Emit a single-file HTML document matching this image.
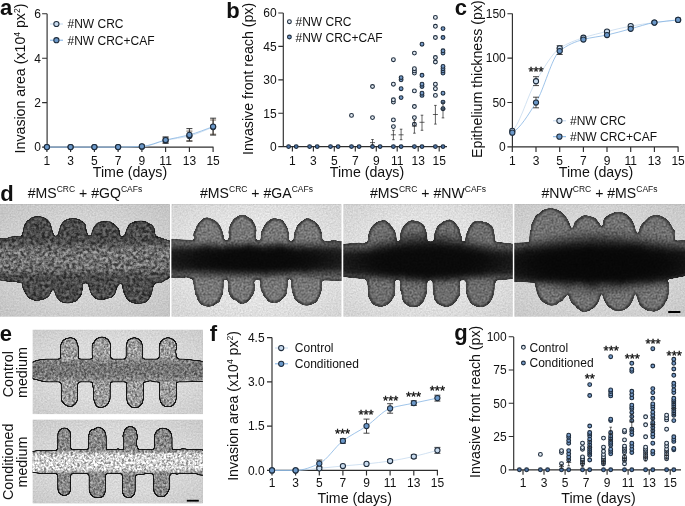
<!DOCTYPE html>
<html lang="en"><head><meta charset="utf-8"><title>Figure</title>
<style>html,body{margin:0;padding:0;background:#fff}svg{display:block}text{font-family:"Liberation Sans",sans-serif;fill:#111}</style>
</head><body>
<svg width="685" height="506" viewBox="0 0 685 506">
<rect width="685" height="506" fill="#fff"/>
<text x="0" y="14.7" font-size="22" font-weight="bold">a</text>
<path d="M47.1 13.7 V147.1 H213.5 M46.9 147.1 v5 M70.6 147.1 v5 M94.4 147.1 v5 M118.1 147.1 v5 M141.9 147.1 v5 M165.6 147.1 v5 M189.4 147.1 v5 M213.1 147.1 v5 M47.1 147.1 h-5 M47.1 102.6 h-5 M47.1 58.2 h-5 M47.1 13.7 h-5" fill="none" stroke="#2e2e2e" stroke-width="1.15"/>
<g font-size="12" text-anchor="middle">
<text x="46.9" y="164.6">1</text>
<text x="70.6" y="164.6">3</text>
<text x="94.4" y="164.6">5</text>
<text x="118.1" y="164.6">7</text>
<text x="141.9" y="164.6">9</text>
<text x="165.6" y="164.6">11</text>
<text x="189.4" y="164.6">13</text>
<text x="213.1" y="164.6">15</text>
</g>
<g font-size="12" text-anchor="end">
<text x="40.9" y="151.4">0</text>
<text x="40.9" y="106.9">2</text>
<text x="40.9" y="62.5">4</text>
<text x="40.9" y="18">6</text>
</g>
<text transform="translate(24.7 78.5) rotate(-90)" font-size="14.2" text-anchor="middle">Invasion area (x10<tspan font-size="8.5" dy="-5">4</tspan><tspan dy="5"> px</tspan><tspan font-size="8.5" dy="-5">2</tspan><tspan dy="5">)</tspan></text>
<text x="130" y="177.3" font-size="14.2" text-anchor="middle">Time (days)</text>
<path d="M50 24h13" stroke="#c3d8ee" stroke-width="1"/>
<path d="M50 40.2h13" stroke="#7fb0e2" stroke-width="1"/>
<circle cx="56.4" cy="24" r="2.6" fill="#c9dbee" stroke="#1e2c3c" stroke-width="1.05"/>
<circle cx="56.4" cy="40.2" r="2.6" fill="#6b98c9" stroke="#1e2c3c" stroke-width="1.05"/>
<text x="67.5" y="28.3" font-size="12">#NW CRC</text>
<text x="67.5" y="44.5" font-size="12">#NW CRC+CAF</text>
<path d="M46.9 147.1 C54.8 147.1 62.7 147.1 70.6 147.1 C78.6 147.1 86.5 147.1 94.4 147.1 C102.3 147.1 110.2 147.1 118.1 147.1 C126 147.1 134 146.9 141.9 146.7 C149.8 146.4 157.7 142.2 165.6 140.4 C173.5 138.7 181.4 138 189.4 136 C197.3 134 205.2 130.1 213.1 127.1" fill="none" stroke="#c3d8ee" stroke-width="0.75"/>
<path d="M46.9 147.1 C54.8 147.1 62.7 147.1 70.6 147.1 C78.6 147.1 86.5 147.1 94.4 147.1 C102.3 147.1 110.2 147.1 118.1 147.1 C126 147.1 134 146.8 141.9 146.4 C149.8 146 157.7 141.9 165.6 140 C173.5 138.1 181.4 137 189.4 134.9 C197.3 132.8 205.2 129.4 213.1 126.6" fill="none" stroke="#7fb0e2" stroke-width="0.75"/>
<path d="M165.6 137.8 V143.1 M162.6 137.8 h6 M162.6 143.1 h6" stroke="#6b5a4a" stroke-width="0.9" fill="none"/>
<path d="M189.4 131.1 V140.9 M186.4 131.1 h6 M186.4 140.9 h6" stroke="#6b5a4a" stroke-width="0.9" fill="none"/>
<path d="M213.1 120 V134.2 M210.1 120 h6 M210.1 134.2 h6" stroke="#6b5a4a" stroke-width="0.9" fill="none"/>
<path d="M165.6 136.9 V143.1 M162.6 136.9 h6 M162.6 143.1 h6" stroke="#222" stroke-width="0.9" fill="none"/>
<path d="M189.4 128.6 V141.1 M186.4 128.6 h6 M186.4 141.1 h6" stroke="#222" stroke-width="0.9" fill="none"/>
<path d="M213.1 118.2 V135.1 M210.1 118.2 h6 M210.1 135.1 h6" stroke="#222" stroke-width="0.9" fill="none"/>
<circle cx="46.9" cy="147.1" r="2.6" fill="#c9dbee" stroke="#1e2c3c" stroke-width="1.05"/>
<circle cx="70.6" cy="147.1" r="2.6" fill="#c9dbee" stroke="#1e2c3c" stroke-width="1.05"/>
<circle cx="94.4" cy="147.1" r="2.6" fill="#c9dbee" stroke="#1e2c3c" stroke-width="1.05"/>
<circle cx="118.1" cy="147.1" r="2.6" fill="#c9dbee" stroke="#1e2c3c" stroke-width="1.05"/>
<circle cx="141.9" cy="146.7" r="2.6" fill="#c9dbee" stroke="#1e2c3c" stroke-width="1.05"/>
<circle cx="165.6" cy="140.4" r="2.6" fill="#c9dbee" stroke="#1e2c3c" stroke-width="1.05"/>
<circle cx="189.4" cy="136" r="2.6" fill="#c9dbee" stroke="#1e2c3c" stroke-width="1.05"/>
<circle cx="213.1" cy="127.1" r="2.6" fill="#c9dbee" stroke="#1e2c3c" stroke-width="1.05"/>
<circle cx="46.9" cy="147.1" r="2.6" fill="#6b98c9" stroke="#1e2c3c" stroke-width="1.05"/>
<circle cx="70.6" cy="147.1" r="2.6" fill="#6b98c9" stroke="#1e2c3c" stroke-width="1.05"/>
<circle cx="94.4" cy="147.1" r="2.6" fill="#6b98c9" stroke="#1e2c3c" stroke-width="1.05"/>
<circle cx="118.1" cy="147.1" r="2.6" fill="#6b98c9" stroke="#1e2c3c" stroke-width="1.05"/>
<circle cx="141.9" cy="146.4" r="2.6" fill="#6b98c9" stroke="#1e2c3c" stroke-width="1.05"/>
<circle cx="165.6" cy="140" r="2.6" fill="#6b98c9" stroke="#1e2c3c" stroke-width="1.05"/>
<circle cx="189.4" cy="134.9" r="2.6" fill="#6b98c9" stroke="#1e2c3c" stroke-width="1.05"/>
<circle cx="213.1" cy="126.6" r="2.6" fill="#6b98c9" stroke="#1e2c3c" stroke-width="1.05"/>
<text x="226.2" y="17.9" font-size="22" font-weight="bold">b</text>
<path d="M283.3 13 V146.6 H447 M292.4 146.6 v5 M313.4 146.6 v5 M334.3 146.6 v5 M355.3 146.6 v5 M376.3 146.6 v5 M397.2 146.6 v5 M418.2 146.6 v5 M439.2 146.6 v5 M283.3 146.6 h-5 M283.3 113.2 h-5 M283.3 79.8 h-5 M283.3 46.4 h-5 M283.3 13 h-5" fill="none" stroke="#2e2e2e" stroke-width="1.15"/>
<g font-size="12" text-anchor="middle">
<text x="292.4" y="164.6">1</text>
<text x="313.4" y="164.6">3</text>
<text x="334.3" y="164.6">5</text>
<text x="355.3" y="164.6">7</text>
<text x="376.3" y="164.6">9</text>
<text x="397.2" y="164.6">11</text>
<text x="418.2" y="164.6">13</text>
<text x="439.2" y="164.6">15</text>
</g>
<g font-size="12" text-anchor="end">
<text x="276.7" y="150.9">0</text>
<text x="276.7" y="117.5">15</text>
<text x="276.7" y="84.1">30</text>
<text x="276.7" y="50.7">45</text>
<text x="276.7" y="17.3">60</text>
</g>
<text transform="translate(253.4 78.9) rotate(-90)" font-size="14.2" text-anchor="middle">Invasive front reach (px)</text>
<text x="367" y="177.3" font-size="14.2" text-anchor="middle">Time (days)</text>
<circle cx="289.4" cy="21.7" r="1.9" fill="#e3ebf4" stroke="#1e2c3c" stroke-width="1.1"/>
<circle cx="289.4" cy="37" r="1.9" fill="#7599c6" stroke="#1e2c3c" stroke-width="1.1"/>
<text x="295.5" y="26" font-size="12">#NW CRC</text>
<text x="295.5" y="41.5" font-size="12">#NW CRC+CAF</text>
<circle cx="288.6" cy="146.6" r="1.9" fill="#4d73a5" stroke="#1e2c3c" stroke-width="1.1"/>
<circle cx="296.2" cy="146.6" r="1.9" fill="#4d73a5" stroke="#1e2c3c" stroke-width="1.1"/>
<circle cx="309.6" cy="146.6" r="1.9" fill="#4d73a5" stroke="#1e2c3c" stroke-width="1.1"/>
<circle cx="317.2" cy="146.6" r="1.9" fill="#4d73a5" stroke="#1e2c3c" stroke-width="1.1"/>
<circle cx="330.5" cy="146.6" r="1.9" fill="#4d73a5" stroke="#1e2c3c" stroke-width="1.1"/>
<circle cx="338.1" cy="146.6" r="1.9" fill="#4d73a5" stroke="#1e2c3c" stroke-width="1.1"/>
<circle cx="351.5" cy="146.6" r="1.9" fill="#4d73a5" stroke="#1e2c3c" stroke-width="1.1"/>
<circle cx="351.5" cy="115.4" r="1.9" fill="#e3ebf4" stroke="#1e2c3c" stroke-width="1.1"/>
<circle cx="359.1" cy="146.6" r="1.9" fill="#4d73a5" stroke="#1e2c3c" stroke-width="1.1"/>
<circle cx="372.5" cy="146.6" r="1.9" fill="#4d73a5" stroke="#1e2c3c" stroke-width="1.1"/>
<circle cx="372.5" cy="117.6" r="1.9" fill="#e3ebf4" stroke="#1e2c3c" stroke-width="1.1"/>
<circle cx="372.5" cy="86.5" r="1.9" fill="#e3ebf4" stroke="#1e2c3c" stroke-width="1.1"/>
<circle cx="380.1" cy="146.6" r="1.9" fill="#4d73a5" stroke="#1e2c3c" stroke-width="1.1"/>
<circle cx="393.4" cy="146.6" r="1.9" fill="#4d73a5" stroke="#1e2c3c" stroke-width="1.1"/>
<circle cx="393.4" cy="126.6" r="1.9" fill="#e3ebf4" stroke="#1e2c3c" stroke-width="1.1"/>
<circle cx="393.4" cy="119.9" r="1.9" fill="#e3ebf4" stroke="#1e2c3c" stroke-width="1.1"/>
<circle cx="393.4" cy="102.1" r="1.9" fill="#e3ebf4" stroke="#1e2c3c" stroke-width="1.1"/>
<circle cx="393.4" cy="99.8" r="1.9" fill="#e3ebf4" stroke="#1e2c3c" stroke-width="1.1"/>
<circle cx="393.4" cy="84.2" r="1.9" fill="#e3ebf4" stroke="#1e2c3c" stroke-width="1.1"/>
<circle cx="393.4" cy="59.7" r="1.9" fill="#e3ebf4" stroke="#1e2c3c" stroke-width="1.1"/>
<circle cx="401.1" cy="146.6" r="1.9" fill="#4d73a5" stroke="#1e2c3c" stroke-width="1.1"/>
<circle cx="401.1" cy="97.6" r="1.9" fill="#7599c6" stroke="#1e2c3c" stroke-width="1.1"/>
<circle cx="401.1" cy="88.7" r="1.9" fill="#7599c6" stroke="#1e2c3c" stroke-width="1.1"/>
<circle cx="401.1" cy="79.8" r="1.9" fill="#7599c6" stroke="#1e2c3c" stroke-width="1.1"/>
<circle cx="401.1" cy="77.6" r="1.9" fill="#7599c6" stroke="#1e2c3c" stroke-width="1.1"/>
<circle cx="414.4" cy="146.6" r="1.9" fill="#4d73a5" stroke="#1e2c3c" stroke-width="1.1"/>
<circle cx="414.4" cy="124.3" r="1.9" fill="#e3ebf4" stroke="#1e2c3c" stroke-width="1.1"/>
<circle cx="414.4" cy="117.6" r="1.9" fill="#e3ebf4" stroke="#1e2c3c" stroke-width="1.1"/>
<circle cx="414.4" cy="106.5" r="1.9" fill="#e3ebf4" stroke="#1e2c3c" stroke-width="1.1"/>
<circle cx="414.4" cy="90.9" r="1.9" fill="#e3ebf4" stroke="#1e2c3c" stroke-width="1.1"/>
<circle cx="414.4" cy="73.1" r="1.9" fill="#e3ebf4" stroke="#1e2c3c" stroke-width="1.1"/>
<circle cx="414.4" cy="70.9" r="1.9" fill="#e3ebf4" stroke="#1e2c3c" stroke-width="1.1"/>
<circle cx="414.4" cy="68.7" r="1.9" fill="#e3ebf4" stroke="#1e2c3c" stroke-width="1.1"/>
<circle cx="414.4" cy="53.1" r="1.9" fill="#e3ebf4" stroke="#1e2c3c" stroke-width="1.1"/>
<circle cx="422" cy="146.6" r="1.9" fill="#4d73a5" stroke="#1e2c3c" stroke-width="1.1"/>
<circle cx="422" cy="95.4" r="1.9" fill="#7599c6" stroke="#1e2c3c" stroke-width="1.1"/>
<circle cx="422" cy="93.2" r="1.9" fill="#7599c6" stroke="#1e2c3c" stroke-width="1.1"/>
<circle cx="422" cy="86.5" r="1.9" fill="#7599c6" stroke="#1e2c3c" stroke-width="1.1"/>
<circle cx="422" cy="84.2" r="1.9" fill="#7599c6" stroke="#1e2c3c" stroke-width="1.1"/>
<circle cx="422" cy="75.3" r="1.9" fill="#7599c6" stroke="#1e2c3c" stroke-width="1.1"/>
<circle cx="422" cy="44.2" r="1.9" fill="#7599c6" stroke="#1e2c3c" stroke-width="1.1"/>
<circle cx="435.4" cy="146.6" r="1.9" fill="#4d73a5" stroke="#1e2c3c" stroke-width="1.1"/>
<circle cx="435.4" cy="95.4" r="1.9" fill="#e3ebf4" stroke="#1e2c3c" stroke-width="1.1"/>
<circle cx="435.4" cy="88.7" r="1.9" fill="#e3ebf4" stroke="#1e2c3c" stroke-width="1.1"/>
<circle cx="435.4" cy="84.2" r="1.9" fill="#e3ebf4" stroke="#1e2c3c" stroke-width="1.1"/>
<circle cx="435.4" cy="62" r="1.9" fill="#e3ebf4" stroke="#1e2c3c" stroke-width="1.1"/>
<circle cx="435.4" cy="57.5" r="1.9" fill="#e3ebf4" stroke="#1e2c3c" stroke-width="1.1"/>
<circle cx="435.4" cy="37.5" r="1.9" fill="#e3ebf4" stroke="#1e2c3c" stroke-width="1.1"/>
<circle cx="435.4" cy="26.3" r="1.9" fill="#e3ebf4" stroke="#1e2c3c" stroke-width="1.1"/>
<circle cx="435.4" cy="17.4" r="1.9" fill="#e3ebf4" stroke="#1e2c3c" stroke-width="1.1"/>
<circle cx="443" cy="146.6" r="1.9" fill="#4d73a5" stroke="#1e2c3c" stroke-width="1.1"/>
<circle cx="443" cy="108.7" r="1.9" fill="#7599c6" stroke="#1e2c3c" stroke-width="1.1"/>
<circle cx="443" cy="102.1" r="1.9" fill="#7599c6" stroke="#1e2c3c" stroke-width="1.1"/>
<circle cx="443" cy="93.2" r="1.9" fill="#7599c6" stroke="#1e2c3c" stroke-width="1.1"/>
<circle cx="443" cy="73.1" r="1.9" fill="#7599c6" stroke="#1e2c3c" stroke-width="1.1"/>
<circle cx="443" cy="70.9" r="1.9" fill="#7599c6" stroke="#1e2c3c" stroke-width="1.1"/>
<circle cx="443" cy="68.7" r="1.9" fill="#7599c6" stroke="#1e2c3c" stroke-width="1.1"/>
<circle cx="443" cy="66.4" r="1.9" fill="#7599c6" stroke="#1e2c3c" stroke-width="1.1"/>
<circle cx="443" cy="53.1" r="1.9" fill="#7599c6" stroke="#1e2c3c" stroke-width="1.1"/>
<circle cx="443" cy="50.8" r="1.9" fill="#7599c6" stroke="#1e2c3c" stroke-width="1.1"/>
<circle cx="443" cy="37.5" r="1.9" fill="#7599c6" stroke="#1e2c3c" stroke-width="1.1"/>
<circle cx="443" cy="28.6" r="1.9" fill="#7599c6" stroke="#1e2c3c" stroke-width="1.1"/>
<path d="M372.5 139.5 V144.8 M371.2 139.5 h2.6 M371.2 144.8 h2.6" stroke="#222" stroke-width="0.7" fill="none"/>
<path d="M370 142.6h5" stroke="#222" stroke-width="0.7"/>
<path d="M393.4 130.3 V139.7 M392.1 130.3 h2.6 M392.1 139.7 h2.6" stroke="#222" stroke-width="0.7" fill="none"/>
<path d="M390.9 134.8h5" stroke="#222" stroke-width="0.7"/>
<path d="M414.4 120.3 V133.2 M413.1 120.3 h2.6 M413.1 133.2 h2.6" stroke="#222" stroke-width="0.7" fill="none"/>
<path d="M411.9 126.1h5" stroke="#222" stroke-width="0.7"/>
<path d="M435.4 105.4 V124.1 M434.1 105.4 h2.6 M434.1 124.1 h2.6" stroke="#222" stroke-width="0.7" fill="none"/>
<path d="M432.9 114.5h5" stroke="#222" stroke-width="0.7"/>
<path d="M401.1 129.2 V139.7 M399.8 129.2 h2.6 M399.8 139.7 h2.6" stroke="#222" stroke-width="0.7" fill="none"/>
<path d="M398.6 134.8h5" stroke="#222" stroke-width="0.7"/>
<path d="M422 115.2 V130.3 M420.7 115.2 h2.6 M420.7 130.3 h2.6" stroke="#222" stroke-width="0.7" fill="none"/>
<path d="M419.5 122.3h5" stroke="#222" stroke-width="0.7"/>
<path d="M443 102.1 V117.9 M441.7 102.1 h2.6 M441.7 117.9 h2.6" stroke="#222" stroke-width="0.7" fill="none"/>
<path d="M440.5 109h5" stroke="#222" stroke-width="0.7"/>
<text x="454.7" y="14.7" font-size="22" font-weight="bold">c</text>
<path d="M512.4 13.6 V146.9 H678.5 M512.3 146.9 v5 M536 146.9 v5 M559.7 146.9 v5 M583.4 146.9 v5 M607 146.9 v5 M630.7 146.9 v5 M654.4 146.9 v5 M678.1 146.9 v5 M512.4 146.9 h-5 M512.4 102.5 h-5 M512.4 58.1 h-5 M512.4 13.7 h-5" fill="none" stroke="#2e2e2e" stroke-width="1.15"/>
<g font-size="12" text-anchor="middle">
<text x="512.3" y="164.6">1</text>
<text x="536" y="164.6">3</text>
<text x="559.7" y="164.6">5</text>
<text x="583.4" y="164.6">7</text>
<text x="607" y="164.6">9</text>
<text x="630.7" y="164.6">11</text>
<text x="654.4" y="164.6">13</text>
<text x="678.1" y="164.6">15</text>
</g>
<g font-size="12" text-anchor="end">
<text x="505.8" y="151.2">0</text>
<text x="505.8" y="106.8">50</text>
<text x="505.8" y="62.4">100</text>
<text x="505.8" y="18">150</text>
</g>
<text transform="translate(481.9 79.1) rotate(-90)" font-size="14.2" text-anchor="middle">Epithelium thickness (px)</text>
<text x="596" y="177.3" font-size="14.2" text-anchor="middle">Time (days)</text>
<path d="M512.3 130.9 C520.2 123.5 528.1 94.4 536 81.2 C543.9 68 551.8 53.7 559.7 48.3 C567.6 43 575.5 40.3 583.4 37.7 C591.3 35.1 599.1 33.4 607 31.5 C614.9 29.5 622.8 27.6 630.7 26.1 C638.6 24.7 646.5 23.6 654.4 22.6 C662.3 21.6 670.2 20.8 678.1 19.9" fill="none" stroke="#c3d8ee" stroke-width="0.75"/>
<path d="M512.3 132.7 C520.2 128.2 528.1 115.2 536 102.5 C543.9 89.8 551.8 57.3 559.7 51 C567.6 44.7 575.5 41.6 583.4 39.5 C591.3 37.3 599.1 36.7 607 35 C614.9 33.3 622.8 30.9 630.7 28.8 C638.6 26.7 646.5 23.8 654.4 22.6 C662.3 21.3 670.2 20.8 678.1 19.9" fill="none" stroke="#7fb0e2" stroke-width="0.75"/>
<path d="M536 76.7 V85.6 M533 76.7 h6 M533 85.6 h6" stroke="#333" stroke-width="0.9" fill="none"/>
<path d="M536 97.2 V107.8 M533 97.2 h6 M533 107.8 h6" stroke="#333" stroke-width="0.9" fill="none"/>
<path d="M559.7 45.7 V51 M556.7 45.7 h6 M556.7 51 h6" stroke="#333" stroke-width="0.9" fill="none"/>
<path d="M559.7 48.3 V54.5 M556.7 48.3 h6 M556.7 54.5 h6" stroke="#333" stroke-width="0.9" fill="none"/>
<circle cx="512.3" cy="130.9" r="2.6" fill="#c9dbee" stroke="#1e2c3c" stroke-width="1.05"/>
<circle cx="536" cy="81.2" r="2.6" fill="#c9dbee" stroke="#1e2c3c" stroke-width="1.05"/>
<circle cx="559.7" cy="48.3" r="2.6" fill="#c9dbee" stroke="#1e2c3c" stroke-width="1.05"/>
<circle cx="583.4" cy="37.7" r="2.6" fill="#c9dbee" stroke="#1e2c3c" stroke-width="1.05"/>
<circle cx="607" cy="31.5" r="2.6" fill="#c9dbee" stroke="#1e2c3c" stroke-width="1.05"/>
<circle cx="630.7" cy="26.1" r="2.6" fill="#c9dbee" stroke="#1e2c3c" stroke-width="1.05"/>
<circle cx="654.4" cy="22.6" r="2.6" fill="#c9dbee" stroke="#1e2c3c" stroke-width="1.05"/>
<circle cx="678.1" cy="19.9" r="2.6" fill="#c9dbee" stroke="#1e2c3c" stroke-width="1.05"/>
<circle cx="512.3" cy="132.7" r="2.6" fill="#6b98c9" stroke="#1e2c3c" stroke-width="1.05"/>
<circle cx="536" cy="102.5" r="2.6" fill="#6b98c9" stroke="#1e2c3c" stroke-width="1.05"/>
<circle cx="559.7" cy="51" r="2.6" fill="#6b98c9" stroke="#1e2c3c" stroke-width="1.05"/>
<circle cx="583.4" cy="39.5" r="2.6" fill="#6b98c9" stroke="#1e2c3c" stroke-width="1.05"/>
<circle cx="607" cy="35" r="2.6" fill="#6b98c9" stroke="#1e2c3c" stroke-width="1.05"/>
<circle cx="630.7" cy="28.8" r="2.6" fill="#6b98c9" stroke="#1e2c3c" stroke-width="1.05"/>
<circle cx="654.4" cy="22.6" r="2.6" fill="#6b98c9" stroke="#1e2c3c" stroke-width="1.05"/>
<circle cx="678.1" cy="19.9" r="2.6" fill="#6b98c9" stroke="#1e2c3c" stroke-width="1.05"/>
<text x="536" y="76.3" font-size="13" text-anchor="middle" stroke="#111" stroke-width="0.35">***</text>
<path d="M553 120.8h13" stroke="#c3d8ee" stroke-width="1"/>
<path d="M553 136.7h13" stroke="#7fb0e2" stroke-width="1"/>
<circle cx="559.4" cy="120.8" r="2.6" fill="#c9dbee" stroke="#1e2c3c" stroke-width="1.05"/>
<circle cx="559.4" cy="136.7" r="2.6" fill="#6b98c9" stroke="#1e2c3c" stroke-width="1.05"/>
<text x="570" y="125" font-size="12">#NW CRC</text>
<text x="570" y="141" font-size="12">#NW CRC+CAF</text>
<text x="0.3" y="200.5" font-size="22" font-weight="bold">d</text>
<text x="85" y="198.3" font-size="14.1" text-anchor="middle">#MS<tspan font-size="8.5" dy="-6">CRC</tspan><tspan dy="6"> + #GQ</tspan><tspan font-size="8.5" dy="-6">CAFs</tspan></text>
<text x="256.5" y="198.3" font-size="14.1" text-anchor="middle">#MS<tspan font-size="8.5" dy="-6">CRC</tspan><tspan dy="6"> + #GA</tspan><tspan font-size="8.5" dy="-6">CAFs</tspan></text>
<text x="428" y="198.3" font-size="14.1" text-anchor="middle">#MS<tspan font-size="8.5" dy="-6">CRC</tspan><tspan dy="6"> + #NW</tspan><tspan font-size="8.5" dy="-6">CAFs</tspan></text>
<text x="599.5" y="198.3" font-size="14.1" text-anchor="middle">#NW<tspan font-size="8.5" dy="-6">CRC</tspan><tspan dy="6"> + #MS</tspan><tspan font-size="8.5" dy="-6">CAFs</tspan></text>
<defs>
<filter id="txA" x="-5%" y="-5%" width="110%" height="110%" color-interpolation-filters="sRGB"><feTurbulence type="fractalNoise" baseFrequency="0.07" numOctaves="2" seed="15" result="w"/><feDisplacementMap in="SourceGraphic" in2="w" scale="3" xChannelSelector="R" yChannelSelector="G" result="sg0"/><feGaussianBlur in="sg0" stdDeviation="1.2" result="sg1"/><feColorMatrix in="sg1" type="matrix" values="1 0 0 0 0  0 1 0 0 0  0 0 1 0 0  0 0 0 6 -2.5" result="sg"/><feColorMatrix in="sg" type="matrix" values="0 0 0 0 0  0 0 0 0 0  0 0 0 0 0  0 0 0 1 0" result="sa"/><feMorphology in="sa" operator="erode" radius="0.8" result="er"/><feComposite in="sa" in2="er" operator="out" result="ra"/><feFlood flood-color="#2a2a2a" result="rc"/><feComposite in="rc" in2="ra" operator="in" result="rim0"/><feGaussianBlur in="rim0" stdDeviation="0.6" result="rim"/><feMerge result="withrim"><feMergeNode in="sg"/><feMergeNode in="rim"/><feMergeNode in="rim"/></feMerge><feComposite in="withrim" in2="sa" operator="in" result="wr"/><feTurbulence type="fractalNoise" baseFrequency="0.33" numOctaves="3" seed="4" result="n0"/><feColorMatrix in="n0" type="matrix" values="1.2 1.2 1.2 0 -1.3  1.2 1.2 1.2 0 -1.3  1.2 1.2 1.2 0 -1.3  0 0 0 0 1" result="n"/><feComposite in="wr" in2="n" operator="arithmetic" k1="0.95" k2="0.52" k3="0" k4="0" result="t"/><feComposite in="t" in2="wr" operator="in" result="t2"/><feGaussianBlur in="t2" stdDeviation="0.6"/></filter>
<filter id="txB" x="-5%" y="-5%" width="110%" height="110%" color-interpolation-filters="sRGB"><feTurbulence type="fractalNoise" baseFrequency="0.07" numOctaves="2" seed="20" result="w"/><feDisplacementMap in="SourceGraphic" in2="w" scale="3" xChannelSelector="R" yChannelSelector="G" result="sg0"/><feGaussianBlur in="sg0" stdDeviation="1.2" result="sg1"/><feColorMatrix in="sg1" type="matrix" values="1 0 0 0 0  0 1 0 0 0  0 0 1 0 0  0 0 0 6 -2.5" result="sg"/><feColorMatrix in="sg" type="matrix" values="0 0 0 0 0  0 0 0 0 0  0 0 0 0 0  0 0 0 1 0" result="sa"/><feMorphology in="sa" operator="erode" radius="1.4" result="er"/><feComposite in="sa" in2="er" operator="out" result="ra"/><feFlood flood-color="#262626" result="rc"/><feComposite in="rc" in2="ra" operator="in" result="rim0"/><feGaussianBlur in="rim0" stdDeviation="0.9" result="rim"/><feMerge result="withrim"><feMergeNode in="sg"/><feMergeNode in="rim"/><feMergeNode in="rim"/></feMerge><feComposite in="withrim" in2="sa" operator="in" result="wr"/><feTurbulence type="fractalNoise" baseFrequency="0.5" numOctaves="3" seed="9" result="n0"/><feColorMatrix in="n0" type="matrix" values="1.2 1.2 1.2 0 -1.3  1.2 1.2 1.2 0 -1.3  1.2 1.2 1.2 0 -1.3  0 0 0 0 1" result="n"/><feComposite in="wr" in2="n" operator="arithmetic" k1="0.45" k2="0.78" k3="0" k4="0" result="t"/><feComposite in="t" in2="wr" operator="in" result="t2"/><feGaussianBlur in="t2" stdDeviation="0.6"/></filter>
<filter id="txE" x="-5%" y="-5%" width="110%" height="110%" color-interpolation-filters="sRGB"><feTurbulence type="fractalNoise" baseFrequency="0.07" numOctaves="2" seed="16" result="w"/><feDisplacementMap in="SourceGraphic" in2="w" scale="2.5" xChannelSelector="R" yChannelSelector="G" result="sg0"/><feGaussianBlur in="sg0" stdDeviation="1.3" result="sg1"/><feColorMatrix in="sg1" type="matrix" values="1 0 0 0 0  0 1 0 0 0  0 0 1 0 0  0 0 0 6 -2.5" result="sg"/><feColorMatrix in="sg" type="matrix" values="0 0 0 0 0  0 0 0 0 0  0 0 0 0 0  0 0 0 1 0" result="sa"/><feMorphology in="sa" operator="erode" radius="1.2" result="er"/><feComposite in="sa" in2="er" operator="out" result="ra"/><feFlood flood-color="#161616" result="rc"/><feComposite in="rc" in2="ra" operator="in" result="rim0"/><feGaussianBlur in="rim0" stdDeviation="0.7" result="rim"/><feMerge result="withrim"><feMergeNode in="sg"/><feMergeNode in="rim"/><feMergeNode in="rim"/></feMerge><feComposite in="withrim" in2="sa" operator="in" result="wr"/><feTurbulence type="fractalNoise" baseFrequency="0.45" numOctaves="3" seed="5" result="n0"/><feColorMatrix in="n0" type="matrix" values="1.2 1.2 1.2 0 -1.3  1.2 1.2 1.2 0 -1.3  1.2 1.2 1.2 0 -1.3  0 0 0 0 1" result="n"/><feComposite in="wr" in2="n" operator="arithmetic" k1="0.75" k2="0.62" k3="0" k4="0" result="t"/><feComposite in="t" in2="wr" operator="in" result="t2"/><feGaussianBlur in="t2" stdDeviation="0.5"/></filter>
<filter id="bgn" x="0" y="0" width="100%" height="100%" color-interpolation-filters="sRGB"><feTurbulence type="fractalNoise" baseFrequency="0.6" numOctaves="2" seed="2" result="n0"/><feColorMatrix in="n0" type="matrix" values="1 1 1 0 -1  1 1 1 0 -1  1 1 1 0 -1  0 0 0 0 1" result="n"/><feComposite in="SourceGraphic" in2="n" operator="arithmetic" k1="0.12" k2="0.94" k3="0" k4="0"/></filter>
<radialGradient id="vig" cx="50%" cy="50%" r="75%"><stop offset="0.5" stop-color="#000" stop-opacity="0"/><stop offset="1" stop-color="#000" stop-opacity="0.08"/></radialGradient>
</defs>
<clipPath id="cd1"><rect x="0" y="204.1" width="169.9" height="112.6"/></clipPath>
<clipPath id="cd1s"><path d="M-3 238 L15 236 L155 235.5 L173 241.5 L173 278 L155 284 L15 283 L-3 280Z M20.7 238C24.2 230.3 22.5 216 37.7 216C52.9 216 51.2 230.3 54.7 238Z M56.4 238C59.9 231 58.2 218 72.9 218C87.6 218 85.9 231 89.4 238Z M89.5 238C93 232.1 91.3 221 105.5 221C119.7 221 118 232.1 121.5 238Z M123.2 238C126.7 231.9 124.9 220.5 140.7 220.5C156.4 220.5 154.7 231.9 158.2 238Z"/><path d="M20.2 281C23.7 287.8 22 300.5 37.7 300.5C53.5 300.5 51.7 287.8 55.2 281Z M51.3 281C54.8 288.9 53.1 303.5 67.8 303.5C82.5 303.5 80.8 288.9 84.3 281Z M86.5 281C90 287.8 88.3 300.5 103 300.5C117.7 300.5 116 287.8 119.5 281Z M120.5 281C124 289.1 122.2 304 138 304C153.8 304 152 289.1 155.5 281Z"/></clipPath>
<g clip-path="url(#cd1)">
<rect x="0" y="204.1" width="169.9" height="112.6" fill="#d2d2d2" filter="url(#bgn)"/>
<rect x="0" y="204.1" width="169.9" height="112.6" fill="url(#vig)"/>
<g filter="url(#txA)"><g clip-path="url(#cd1s)"><rect x="-5" y="199.1" width="179.9" height="122.6" fill="#4a4a4a"/><linearGradient id="vg1" x1="0" y1="0" x2="0" y2="1"><stop offset="0.000" stop-color="#848484" stop-opacity="0.00"/><stop offset="0.070" stop-color="#848484" stop-opacity="0.04"/><stop offset="0.122" stop-color="#848484" stop-opacity="0.15"/><stop offset="0.175" stop-color="#848484" stop-opacity="0.33"/><stop offset="0.227" stop-color="#848484" stop-opacity="0.51"/><stop offset="0.280" stop-color="#848484" stop-opacity="0.62"/><stop offset="0.350" stop-color="#848484" stop-opacity="0.66"/><stop offset="0.650" stop-color="#848484" stop-opacity="0.66"/><stop offset="0.720" stop-color="#848484" stop-opacity="0.62"/><stop offset="0.772" stop-color="#848484" stop-opacity="0.51"/><stop offset="0.825" stop-color="#848484" stop-opacity="0.33"/><stop offset="0.878" stop-color="#848484" stop-opacity="0.15"/><stop offset="0.930" stop-color="#848484" stop-opacity="0.04"/><stop offset="1.000" stop-color="#848484" stop-opacity="0.00"/></linearGradient><rect x="-8" y="239" width="186" height="40" fill="url(#vg1)"/></g></g>
</g>
<clipPath id="cd2"><rect x="171.4" y="204.1" width="170.2" height="112.6"/></clipPath>
<clipPath id="cd2s"><path d="M168 239 L200 240 L320 240.5 L345 241.5 L345 281 L320 280.5 L200 279.5 L168 277.5Z M194.2 258.2V236.2A14.5 18.9 0 0 1 223.2 236.2V258.2Z M228.3 258.2V233.4A14.3 18.6 0 0 1 256.9 233.4V258.2Z M261.5 258.2V236A13.8 17.9 0 0 1 289.1 236V258.2Z M293.5 258.2V237.9A14.5 18.9 0 0 1 322.5 237.9V258.2Z"/><path d="M193.7 258.2V287.5A15 19.5 0 0 0 223.7 287.5V258.2Z M227.6 258.2V286.1A13.8 17.9 0 0 0 255.2 286.1V258.2Z M260.2 258.2V285.4A13.8 17.9 0 0 0 287.8 285.4V258.2Z M291.2 258.2V285.7A15.5 20.2 0 0 0 322.2 285.7V258.2Z"/></clipPath>
<g clip-path="url(#cd2)">
<rect x="171.4" y="204.1" width="170.2" height="112.6" fill="#e3e3e3" filter="url(#bgn)"/>
<rect x="171.4" y="204.1" width="170.2" height="112.6" fill="url(#vig)"/>
<g filter="url(#txB)"><g clip-path="url(#cd2s)"><rect x="166.4" y="199.1" width="180.2" height="122.6" fill="#767676"/><linearGradient id="vg2" x1="0" y1="0" x2="0" y2="1"><stop offset="0.000" stop-color="#1a1a1a" stop-opacity="0.00"/><stop offset="0.052" stop-color="#1a1a1a" stop-opacity="0.03"/><stop offset="0.091" stop-color="#1a1a1a" stop-opacity="0.12"/><stop offset="0.130" stop-color="#1a1a1a" stop-opacity="0.28"/><stop offset="0.170" stop-color="#1a1a1a" stop-opacity="0.43"/><stop offset="0.209" stop-color="#1a1a1a" stop-opacity="0.52"/><stop offset="0.261" stop-color="#1a1a1a" stop-opacity="0.55"/><stop offset="0.739" stop-color="#1a1a1a" stop-opacity="0.55"/><stop offset="0.791" stop-color="#1a1a1a" stop-opacity="0.52"/><stop offset="0.830" stop-color="#1a1a1a" stop-opacity="0.43"/><stop offset="0.870" stop-color="#1a1a1a" stop-opacity="0.28"/><stop offset="0.909" stop-color="#1a1a1a" stop-opacity="0.12"/><stop offset="0.948" stop-color="#1a1a1a" stop-opacity="0.03"/><stop offset="1.000" stop-color="#1a1a1a" stop-opacity="0.00"/></linearGradient><rect x="160" y="237" width="195" height="46" fill="url(#vg2)"/><linearGradient id="vg3" x1="0" y1="0" x2="0" y2="1"><stop offset="0.000" stop-color="#0a0a0a" stop-opacity="0.00"/><stop offset="0.054" stop-color="#0a0a0a" stop-opacity="0.04"/><stop offset="0.095" stop-color="#0a0a0a" stop-opacity="0.13"/><stop offset="0.136" stop-color="#0a0a0a" stop-opacity="0.30"/><stop offset="0.176" stop-color="#0a0a0a" stop-opacity="0.47"/><stop offset="0.217" stop-color="#0a0a0a" stop-opacity="0.56"/><stop offset="0.271" stop-color="#0a0a0a" stop-opacity="0.60"/><stop offset="0.729" stop-color="#0a0a0a" stop-opacity="0.60"/><stop offset="0.783" stop-color="#0a0a0a" stop-opacity="0.56"/><stop offset="0.824" stop-color="#0a0a0a" stop-opacity="0.47"/><stop offset="0.864" stop-color="#0a0a0a" stop-opacity="0.30"/><stop offset="0.905" stop-color="#0a0a0a" stop-opacity="0.13"/><stop offset="0.946" stop-color="#0a0a0a" stop-opacity="0.04"/><stop offset="1.000" stop-color="#0a0a0a" stop-opacity="0.00"/></linearGradient><rect x="160" y="244.5" width="195" height="29.5" fill="url(#vg3)"/><radialGradient id="rg4"><stop offset="0" stop-color="#080808" stop-opacity="0.95"/><stop offset="0.4" stop-color="#080808" stop-opacity="0.90"/><stop offset="0.55" stop-color="#080808" stop-opacity="0.76"/><stop offset="0.7" stop-color="#080808" stop-opacity="0.47"/><stop offset="0.82" stop-color="#080808" stop-opacity="0.21"/><stop offset="0.92" stop-color="#080808" stop-opacity="0.06"/><stop offset="1" stop-color="#080808" stop-opacity="0.00"/></radialGradient><ellipse cx="256" cy="259.5" rx="109.2" ry="18.2" fill="url(#rg4)"/></g></g>
</g>
<clipPath id="cd3"><rect x="343.3" y="204.1" width="169.5" height="112.6"/></clipPath>
<clipPath id="cd3s"><path d="M340 244 L370 241.5 L495 241.5 L516 244 L516 279 L495 280.5 L370 280 L340 276.6Z M367.7 260.3V239.4A14.5 18.9 0 0 1 396.7 239.4V260.3Z M399.8 260.3V237.8A13.8 17.9 0 0 1 427.4 237.8V260.3Z M433.7 260.3V237.8A13.8 17.9 0 0 1 461.3 237.8V260.3Z M465.2 260.3V240.1A15 19.5 0 0 1 495.2 240.1V260.3Z"/><path d="M366.5 260.3V288.1A14.5 18.9 0 0 0 395.5 288.1V260.3Z M399.8 260.3V289.6A13.8 17.9 0 0 0 427.4 289.6V260.3Z M432.5 260.3V289.1A13.8 17.9 0 0 0 460.1 289.1V260.3Z M465.7 260.3V288.6A14.5 18.9 0 0 0 494.7 288.6V260.3Z"/></clipPath>
<g clip-path="url(#cd3)">
<rect x="343.3" y="204.1" width="169.5" height="112.6" fill="#e1e1e1" filter="url(#bgn)"/>
<rect x="343.3" y="204.1" width="169.5" height="112.6" fill="url(#vig)"/>
<g filter="url(#txB)"><g clip-path="url(#cd3s)"><rect x="338.3" y="199.1" width="179.5" height="122.6" fill="#6c6c6c"/><linearGradient id="vg5" x1="0" y1="0" x2="0" y2="1"><stop offset="0.000" stop-color="#161616" stop-opacity="0.00"/><stop offset="0.052" stop-color="#161616" stop-opacity="0.03"/><stop offset="0.091" stop-color="#161616" stop-opacity="0.11"/><stop offset="0.130" stop-color="#161616" stop-opacity="0.25"/><stop offset="0.170" stop-color="#161616" stop-opacity="0.39"/><stop offset="0.209" stop-color="#161616" stop-opacity="0.47"/><stop offset="0.261" stop-color="#161616" stop-opacity="0.50"/><stop offset="0.739" stop-color="#161616" stop-opacity="0.50"/><stop offset="0.791" stop-color="#161616" stop-opacity="0.47"/><stop offset="0.830" stop-color="#161616" stop-opacity="0.39"/><stop offset="0.870" stop-color="#161616" stop-opacity="0.25"/><stop offset="0.909" stop-color="#161616" stop-opacity="0.11"/><stop offset="0.948" stop-color="#161616" stop-opacity="0.03"/><stop offset="1.000" stop-color="#161616" stop-opacity="0.00"/></linearGradient><rect x="335" y="239" width="190" height="46" fill="url(#vg5)"/><linearGradient id="vg6" x1="0" y1="0" x2="0" y2="1"><stop offset="0.000" stop-color="#0a0a0a" stop-opacity="0.00"/><stop offset="0.062" stop-color="#0a0a0a" stop-opacity="0.04"/><stop offset="0.109" stop-color="#0a0a0a" stop-opacity="0.13"/><stop offset="0.156" stop-color="#0a0a0a" stop-opacity="0.30"/><stop offset="0.203" stop-color="#0a0a0a" stop-opacity="0.47"/><stop offset="0.250" stop-color="#0a0a0a" stop-opacity="0.56"/><stop offset="0.312" stop-color="#0a0a0a" stop-opacity="0.60"/><stop offset="0.688" stop-color="#0a0a0a" stop-opacity="0.60"/><stop offset="0.750" stop-color="#0a0a0a" stop-opacity="0.56"/><stop offset="0.797" stop-color="#0a0a0a" stop-opacity="0.47"/><stop offset="0.844" stop-color="#0a0a0a" stop-opacity="0.30"/><stop offset="0.891" stop-color="#0a0a0a" stop-opacity="0.13"/><stop offset="0.938" stop-color="#0a0a0a" stop-opacity="0.04"/><stop offset="1.000" stop-color="#0a0a0a" stop-opacity="0.00"/></linearGradient><rect x="335" y="247" width="190" height="32" fill="url(#vg6)"/><radialGradient id="rg7"><stop offset="0" stop-color="#080808" stop-opacity="0.95"/><stop offset="0.4" stop-color="#080808" stop-opacity="0.90"/><stop offset="0.55" stop-color="#080808" stop-opacity="0.76"/><stop offset="0.7" stop-color="#080808" stop-opacity="0.47"/><stop offset="0.82" stop-color="#080808" stop-opacity="0.21"/><stop offset="0.92" stop-color="#080808" stop-opacity="0.06"/><stop offset="1" stop-color="#080808" stop-opacity="0.00"/></radialGradient><ellipse cx="428" cy="262" rx="106.4" ry="21" fill="url(#rg7)"/><radialGradient id="rg8"><stop offset="0" stop-color="#0a0a0a" stop-opacity="0.80"/><stop offset="0.4" stop-color="#0a0a0a" stop-opacity="0.76"/><stop offset="0.55" stop-color="#0a0a0a" stop-opacity="0.64"/><stop offset="0.7" stop-color="#0a0a0a" stop-opacity="0.40"/><stop offset="0.82" stop-color="#0a0a0a" stop-opacity="0.18"/><stop offset="0.92" stop-color="#0a0a0a" stop-opacity="0.05"/><stop offset="1" stop-color="#0a0a0a" stop-opacity="0.00"/></radialGradient><ellipse cx="428" cy="258" rx="72.8" ry="30.8" fill="url(#rg8)"/></g></g>
</g>
<clipPath id="cd4"><rect x="514.3" y="204.1" width="170.7" height="112.6"/></clipPath>
<clipPath id="cd4s"><path d="M511 242.7 L540 242 L660 241 L688 240 L688 275.4 L660 281 L540 283 L511 281.7Z M529.3 262.2V235.8A21.4 27.8 0 0 1 572.1 235.8V262.2Z M571.6 262.2V235A15.5 20.2 0 0 1 602.6 235V262.2Z M600.9 262.2V234.4A17.6 22.9 0 0 1 636.1 234.4V262.2Z M637.4 262.2V239.2A18.8 24.4 0 0 1 675 239.2V262.2Z"/><path d="M535.2 262.2V284A16.8 21.8 0 0 0 568.8 284V262.2Z M568 262.2V290.4A16.6 21.6 0 0 0 601.2 290.4V262.2Z M601.9 262.2V289.9A16.6 21.6 0 0 0 635.1 289.9V262.2Z M635.8 262.2V290.4A16.6 21.6 0 0 0 669 290.4V262.2Z"/></clipPath>
<g clip-path="url(#cd4)">
<rect x="514.3" y="204.1" width="170.7" height="112.6" fill="#d6d6d6" filter="url(#bgn)"/>
<rect x="514.3" y="204.1" width="170.7" height="112.6" fill="url(#vig)"/>
<g filter="url(#txB)"><g clip-path="url(#cd4s)"><rect x="509.3" y="199.1" width="180.7" height="122.6" fill="#707070"/><linearGradient id="vg9" x1="0" y1="0" x2="0" y2="1"><stop offset="0.000" stop-color="#141414" stop-opacity="0.00"/><stop offset="0.057" stop-color="#141414" stop-opacity="0.03"/><stop offset="0.100" stop-color="#141414" stop-opacity="0.11"/><stop offset="0.143" stop-color="#141414" stop-opacity="0.25"/><stop offset="0.186" stop-color="#141414" stop-opacity="0.39"/><stop offset="0.229" stop-color="#141414" stop-opacity="0.47"/><stop offset="0.286" stop-color="#141414" stop-opacity="0.50"/><stop offset="0.714" stop-color="#141414" stop-opacity="0.50"/><stop offset="0.771" stop-color="#141414" stop-opacity="0.47"/><stop offset="0.814" stop-color="#141414" stop-opacity="0.39"/><stop offset="0.857" stop-color="#141414" stop-opacity="0.25"/><stop offset="0.900" stop-color="#141414" stop-opacity="0.11"/><stop offset="0.943" stop-color="#141414" stop-opacity="0.03"/><stop offset="1.000" stop-color="#141414" stop-opacity="0.00"/></linearGradient><rect x="505" y="235" width="195" height="56" fill="url(#vg9)"/><linearGradient id="vg10" x1="0" y1="0" x2="0" y2="1"><stop offset="0.000" stop-color="#080808" stop-opacity="0.00"/><stop offset="0.057" stop-color="#080808" stop-opacity="0.04"/><stop offset="0.100" stop-color="#080808" stop-opacity="0.14"/><stop offset="0.143" stop-color="#080808" stop-opacity="0.33"/><stop offset="0.186" stop-color="#080808" stop-opacity="0.51"/><stop offset="0.229" stop-color="#080808" stop-opacity="0.61"/><stop offset="0.286" stop-color="#080808" stop-opacity="0.65"/><stop offset="0.714" stop-color="#080808" stop-opacity="0.65"/><stop offset="0.771" stop-color="#080808" stop-opacity="0.61"/><stop offset="0.814" stop-color="#080808" stop-opacity="0.51"/><stop offset="0.857" stop-color="#080808" stop-opacity="0.33"/><stop offset="0.900" stop-color="#080808" stop-opacity="0.14"/><stop offset="0.943" stop-color="#080808" stop-opacity="0.04"/><stop offset="1.000" stop-color="#080808" stop-opacity="0.00"/></linearGradient><rect x="505" y="244" width="195" height="42" fill="url(#vg10)"/><radialGradient id="rg11"><stop offset="0" stop-color="#060606" stop-opacity="0.95"/><stop offset="0.4" stop-color="#060606" stop-opacity="0.90"/><stop offset="0.55" stop-color="#060606" stop-opacity="0.76"/><stop offset="0.7" stop-color="#060606" stop-opacity="0.47"/><stop offset="0.82" stop-color="#060606" stop-opacity="0.21"/><stop offset="0.92" stop-color="#060606" stop-opacity="0.06"/><stop offset="1" stop-color="#060606" stop-opacity="0.00"/></radialGradient><ellipse cx="600" cy="264" rx="120.4" ry="23.8" fill="url(#rg11)"/><radialGradient id="rg12"><stop offset="0" stop-color="#080808" stop-opacity="0.75"/><stop offset="0.4" stop-color="#080808" stop-opacity="0.71"/><stop offset="0.55" stop-color="#080808" stop-opacity="0.60"/><stop offset="0.7" stop-color="#080808" stop-opacity="0.38"/><stop offset="0.82" stop-color="#080808" stop-opacity="0.17"/><stop offset="0.92" stop-color="#080808" stop-opacity="0.04"/><stop offset="1" stop-color="#080808" stop-opacity="0.00"/></radialGradient><ellipse cx="600" cy="262" rx="100.8" ry="36.4" fill="url(#rg12)"/></g></g>
</g>
<rect x="668.2" y="311" width="12.2" height="2" fill="#000"/>
<clipPath id="ce1"><rect x="32.5" y="329.6" width="170.4" height="84.7"/></clipPath>
<clipPath id="ce1s"><path d="M30 361 L45 358.5 L185 358.5 L205 361 L205 382 L185 382.5 L45 382.5 L30 379Z M60 370V346.4A9.4 9.4 0 0 1 78.8 346.4V370Z M92.5 370V345.7A9.4 9.4 0 0 1 111.3 345.7V370Z M125.5 370V345.8A8.8 8.8 0 0 1 143.1 345.8V370Z M158.6 370V346.4A9.4 9.4 0 0 1 177.4 346.4V370Z"/><path d="M60.6 370V398.5A8.8 8.8 0 0 0 78.2 398.5V370Z M93.1 370V399.1A8.8 8.8 0 0 0 110.7 399.1V370Z M126.2 370V399.7A8.8 8.8 0 0 0 143.8 399.7V370Z M159.2 370V399.1A8.8 8.8 0 0 0 176.8 399.1V370Z"/></clipPath>
<g clip-path="url(#ce1)">
<rect x="32.5" y="329.6" width="170.4" height="84.7" fill="#dadada" filter="url(#bgn)"/>
<rect x="32.5" y="329.6" width="170.4" height="84.7" fill="url(#vig)"/>
<g filter="url(#txE)"><g clip-path="url(#ce1s)"><rect x="27.5" y="324.6" width="180.4" height="94.7" fill="#9c9c9c"/><linearGradient id="vg13" x1="0" y1="0" x2="0" y2="1"><stop offset="0.000" stop-color="#585858" stop-opacity="0.00"/><stop offset="0.062" stop-color="#585858" stop-opacity="0.03"/><stop offset="0.108" stop-color="#585858" stop-opacity="0.12"/><stop offset="0.154" stop-color="#585858" stop-opacity="0.28"/><stop offset="0.200" stop-color="#585858" stop-opacity="0.43"/><stop offset="0.246" stop-color="#585858" stop-opacity="0.52"/><stop offset="0.308" stop-color="#585858" stop-opacity="0.55"/><stop offset="0.692" stop-color="#585858" stop-opacity="0.55"/><stop offset="0.754" stop-color="#585858" stop-opacity="0.52"/><stop offset="0.800" stop-color="#585858" stop-opacity="0.43"/><stop offset="0.846" stop-color="#585858" stop-opacity="0.28"/><stop offset="0.892" stop-color="#585858" stop-opacity="0.12"/><stop offset="0.938" stop-color="#585858" stop-opacity="0.03"/><stop offset="1.000" stop-color="#585858" stop-opacity="0.00"/></linearGradient><rect x="25" y="357" width="185" height="26" fill="url(#vg13)"/></g></g>
</g>
<clipPath id="ce2"><rect x="32.5" y="419.5" width="170.4" height="84.1"/></clipPath>
<clipPath id="ce2s"><path d="M30 451 L45 449.2 L185 449.2 L205 449 L205 476 L185 474.3 L45 474.3 L30 473Z M57.3 462V434.3A7 7 0 0 1 71.3 434.3V462Z M87.9 462V435.7A9.4 9.4 0 0 1 106.7 435.7V462Z M123.3 462V432.7A7 7 0 0 1 137.3 432.7V462Z M153.8 462V436.7A9.4 9.4 0 0 1 172.6 436.7V462Z"/><path d="M57.3 462V489.3A7 7 0 0 0 71.3 489.3V462Z M88.5 462V489.7A8.8 8.8 0 0 0 106.1 489.7V462Z M121.7 462V491.5A7 7 0 0 0 135.7 491.5V462Z M152.8 462V489.1A8.8 8.8 0 0 0 170.4 489.1V462Z"/></clipPath>
<g clip-path="url(#ce2)">
<rect x="32.5" y="419.5" width="170.4" height="84.1" fill="#d8d8d8" filter="url(#bgn)"/>
<rect x="32.5" y="419.5" width="170.4" height="84.1" fill="url(#vig)"/>
<g filter="url(#txE)"><g clip-path="url(#ce2s)"><rect x="27.5" y="414.5" width="180.4" height="94.1" fill="#888888"/><linearGradient id="vg14" x1="0" y1="0" x2="0" y2="1"><stop offset="0.000" stop-color="#d4d4d4" stop-opacity="0.00"/><stop offset="0.042" stop-color="#d4d4d4" stop-opacity="0.06"/><stop offset="0.073" stop-color="#d4d4d4" stop-opacity="0.22"/><stop offset="0.104" stop-color="#d4d4d4" stop-opacity="0.50"/><stop offset="0.135" stop-color="#d4d4d4" stop-opacity="0.78"/><stop offset="0.167" stop-color="#d4d4d4" stop-opacity="0.94"/><stop offset="0.208" stop-color="#d4d4d4" stop-opacity="1.00"/><stop offset="0.792" stop-color="#d4d4d4" stop-opacity="1.00"/><stop offset="0.833" stop-color="#d4d4d4" stop-opacity="0.94"/><stop offset="0.865" stop-color="#d4d4d4" stop-opacity="0.78"/><stop offset="0.896" stop-color="#d4d4d4" stop-opacity="0.50"/><stop offset="0.927" stop-color="#d4d4d4" stop-opacity="0.22"/><stop offset="0.958" stop-color="#d4d4d4" stop-opacity="0.06"/><stop offset="1.000" stop-color="#d4d4d4" stop-opacity="0.00"/></linearGradient><rect x="25" y="450" width="185" height="24" fill="url(#vg14)"/></g></g>
</g>
<rect x="186.8" y="499.8" width="12" height="1.8" fill="#000"/>
<text x="-0.2" y="340.6" font-size="22" font-weight="bold">e</text>
<g font-size="14.3" text-anchor="middle">
<text transform="translate(12.8 374.2) rotate(-90)">Control</text>
<text transform="translate(27.1 372.6) rotate(-90)">medium</text>
<text transform="translate(12.8 461.8) rotate(-90)">Conditioned</text>
<text transform="translate(27.1 462.1) rotate(-90)">medium</text>
</g>
<text x="209.8" y="340.8" font-size="22" font-weight="bold">f</text>
<path d="M272 337.6 V470.4 H438 M272 470.4 v5 M295.6 470.4 v5 M319.3 470.4 v5 M342.9 470.4 v5 M366.5 470.4 v5 M390.1 470.4 v5 M413.8 470.4 v5 M437.4 470.4 v5 M272 470.4 h-5 M272 426.1 h-5 M272 381.9 h-5 M272 337.6 h-5" fill="none" stroke="#2e2e2e" stroke-width="1.15"/>
<g font-size="12" text-anchor="middle">
<text x="272" y="486.5">1</text>
<text x="295.6" y="486.5">3</text>
<text x="319.3" y="486.5">5</text>
<text x="342.9" y="486.5">7</text>
<text x="366.5" y="486.5">9</text>
<text x="390.1" y="486.5">11</text>
<text x="413.8" y="486.5">13</text>
<text x="437.4" y="486.5">15</text>
</g>
<g font-size="12" text-anchor="end">
<text x="264.6" y="474.7">0.0</text>
<text x="264.6" y="430.4">1.5</text>
<text x="264.6" y="386.2">3.0</text>
<text x="264.6" y="341.9">4.5</text>
</g>
<text transform="translate(238 405.9) rotate(-90)" font-size="14.2" text-anchor="middle">Invasion area (x10<tspan font-size="8.5" dy="-5">4</tspan><tspan dy="5"> px</tspan><tspan font-size="8.5" dy="-5">2</tspan><tspan dy="5">)</tspan></text>
<text x="354.7" y="502.5" font-size="14.2" text-anchor="middle">Time (days)</text>
<path d="M272 470.4 C279.9 470.4 287.8 470.4 295.6 470.4 C303.5 470.4 311.4 469.1 319.3 468.3 C327.1 467.6 335 466.7 342.9 466 C350.8 465.2 358.6 464.7 366.5 463.9 C374.4 463.1 382.3 462.1 390.1 461 C398 459.8 405.9 458.3 413.8 456.5 C421.6 454.8 429.5 452.4 437.4 450.3" fill="none" stroke="#c3d8ee" stroke-width="0.75"/>
<path d="M272 470.4 C279.9 470.4 287.8 470.4 295.6 470.4 C303.5 470.4 311.4 467.1 319.3 463.6 C327.1 460.1 335 446.9 342.9 440.9 C350.8 434.9 358.6 431.5 366.5 426.1 C374.4 420.8 382.3 411.2 390.1 408.4 C398 405.7 405.9 404.9 413.8 403.1 C421.6 401.4 429.5 399.8 437.4 398.1" fill="none" stroke="#7fb0e2" stroke-width="0.75"/>
<path d="M319.3 460.1 V467.2 M316.3 460.1 h6 M316.3 467.2 h6" stroke="#333" stroke-width="0.9" fill="none"/>
<path d="M342.9 438.5 V443.3 M339.9 438.5 h6 M339.9 443.3 h6" stroke="#333" stroke-width="0.9" fill="none"/>
<path d="M366.5 419.1 V433.2 M363.5 419.1 h6 M363.5 433.2 h6" stroke="#333" stroke-width="0.9" fill="none"/>
<path d="M390.1 403.7 V413.2 M387.1 403.7 h6 M387.1 413.2 h6" stroke="#333" stroke-width="0.9" fill="none"/>
<path d="M413.8 400.8 V405.5 M410.8 400.8 h6 M410.8 405.5 h6" stroke="#333" stroke-width="0.9" fill="none"/>
<path d="M437.4 395.2 V401.1 M434.4 395.2 h6 M434.4 401.1 h6" stroke="#333" stroke-width="0.9" fill="none"/>
<path d="M319.3 466.9 V469.8 M316.3 466.9 h6 M316.3 469.8 h6" stroke="#333" stroke-width="0.9" fill="none"/>
<path d="M390.1 459.5 V462.4 M387.1 459.5 h6 M387.1 462.4 h6" stroke="#333" stroke-width="0.9" fill="none"/>
<path d="M413.8 454.8 V458.3 M410.8 454.8 h6 M410.8 458.3 h6" stroke="#333" stroke-width="0.9" fill="none"/>
<path d="M437.4 447.4 V453.3 M434.4 447.4 h6 M434.4 453.3 h6" stroke="#333" stroke-width="0.9" fill="none"/>
<circle cx="272" cy="470.4" r="2.6" fill="#c9dbee" stroke="#1e2c3c" stroke-width="1.05"/>
<circle cx="295.6" cy="470.4" r="2.6" fill="#c9dbee" stroke="#1e2c3c" stroke-width="1.05"/>
<circle cx="319.3" cy="468.3" r="2.6" fill="#c9dbee" stroke="#1e2c3c" stroke-width="1.05"/>
<circle cx="342.9" cy="466" r="2.6" fill="#c9dbee" stroke="#1e2c3c" stroke-width="1.05"/>
<circle cx="366.5" cy="463.9" r="2.6" fill="#c9dbee" stroke="#1e2c3c" stroke-width="1.05"/>
<circle cx="390.1" cy="461" r="2.6" fill="#c9dbee" stroke="#1e2c3c" stroke-width="1.05"/>
<circle cx="413.8" cy="456.5" r="2.6" fill="#c9dbee" stroke="#1e2c3c" stroke-width="1.05"/>
<circle cx="437.4" cy="450.3" r="2.6" fill="#c9dbee" stroke="#1e2c3c" stroke-width="1.05"/>
<circle cx="272" cy="470.4" r="2.6" fill="#6b98c9" stroke="#1e2c3c" stroke-width="1.05"/>
<circle cx="295.6" cy="470.4" r="2.6" fill="#6b98c9" stroke="#1e2c3c" stroke-width="1.05"/>
<circle cx="319.3" cy="463.6" r="2.6" fill="#6b98c9" stroke="#1e2c3c" stroke-width="1.05"/>
<circle cx="342.9" cy="440.9" r="2.6" fill="#6b98c9" stroke="#1e2c3c" stroke-width="1.05"/>
<circle cx="366.5" cy="426.1" r="2.6" fill="#6b98c9" stroke="#1e2c3c" stroke-width="1.05"/>
<circle cx="390.1" cy="408.4" r="2.6" fill="#6b98c9" stroke="#1e2c3c" stroke-width="1.05"/>
<circle cx="413.8" cy="403.1" r="2.6" fill="#6b98c9" stroke="#1e2c3c" stroke-width="1.05"/>
<circle cx="437.4" cy="398.1" r="2.6" fill="#6b98c9" stroke="#1e2c3c" stroke-width="1.05"/>
<g font-size="13" text-anchor="middle" stroke="#111" stroke-width="0.35">
<text x="342.6" y="438">***</text>
<text x="366.1" y="418.5">***</text>
<text x="390.7" y="405">***</text>
<text x="413.5" y="401">***</text>
<text x="437.4" y="394.5">***</text>
</g>
<path d="M275 348h13" stroke="#c3d8ee" stroke-width="1"/>
<path d="M275 363.8h13" stroke="#7fb0e2" stroke-width="1"/>
<circle cx="281.2" cy="348" r="2.6" fill="#c9dbee" stroke="#1e2c3c" stroke-width="1.05"/>
<circle cx="281.2" cy="363.8" r="2.6" fill="#6b98c9" stroke="#1e2c3c" stroke-width="1.05"/>
<text x="294.8" y="352.3" font-size="12">Control</text>
<text x="294.8" y="368.1" font-size="12">Conditioned</text>
<text x="454.2" y="340.1" font-size="22" font-weight="bold">g</text>
<path d="M513.7 336.9 V469.8 H681 M523 469.8 v5 M544 469.8 v5 M565.1 469.8 v5 M586.1 469.8 v5 M607.1 469.8 v5 M628.1 469.8 v5 M649.2 469.8 v5 M670.2 469.8 v5 M513.7 469.8 h-5 M513.7 436.5 h-5 M513.7 403.2 h-5 M513.7 370 h-5 M513.7 336.7 h-5" fill="none" stroke="#2e2e2e" stroke-width="1.15"/>
<g font-size="12" text-anchor="middle">
<text x="523" y="486.5">1</text>
<text x="544" y="486.5">3</text>
<text x="565.1" y="486.5">5</text>
<text x="586.1" y="486.5">7</text>
<text x="607.1" y="486.5">9</text>
<text x="628.1" y="486.5">11</text>
<text x="649.2" y="486.5">13</text>
<text x="670.2" y="486.5">15</text>
</g>
<g font-size="12" text-anchor="end">
<text x="506.7" y="474.1">0</text>
<text x="506.7" y="440.8">25</text>
<text x="506.7" y="407.6">50</text>
<text x="506.7" y="374.3">75</text>
<text x="506.7" y="341">100</text>
</g>
<text transform="translate(480.4 401.8) rotate(-90)" font-size="14.2" text-anchor="middle">Invasive front reach (px)</text>
<text x="598.5" y="502.5" font-size="14.2" text-anchor="middle">Time (days)</text>
<circle cx="519.4" cy="469.8" r="1.9" fill="#4d73a5" stroke="#1e2c3c" stroke-width="1.1"/>
<circle cx="526.6" cy="469.8" r="1.9" fill="#4d73a5" stroke="#1e2c3c" stroke-width="1.1"/>
<circle cx="540.4" cy="469.8" r="1.9" fill="#4d73a5" stroke="#1e2c3c" stroke-width="1.1"/>
<circle cx="540.4" cy="454.4" r="1.9" fill="#e3ebf4" stroke="#1e2c3c" stroke-width="1.1"/>
<circle cx="547.6" cy="469.8" r="1.9" fill="#4d73a5" stroke="#1e2c3c" stroke-width="1.1"/>
<circle cx="561.5" cy="469.8" r="1.9" fill="#4d73a5" stroke="#1e2c3c" stroke-width="1.1"/>
<circle cx="561.5" cy="463.7" r="1.9" fill="#e3ebf4" stroke="#1e2c3c" stroke-width="1.1"/>
<circle cx="561.5" cy="452.5" r="1.9" fill="#e3ebf4" stroke="#1e2c3c" stroke-width="1.1"/>
<circle cx="561.5" cy="450.6" r="1.9" fill="#e3ebf4" stroke="#1e2c3c" stroke-width="1.1"/>
<circle cx="568.7" cy="469.8" r="1.9" fill="#4d73a5" stroke="#1e2c3c" stroke-width="1.1"/>
<circle cx="568.7" cy="460" r="1.9" fill="#7599c6" stroke="#1e2c3c" stroke-width="1.1"/>
<circle cx="568.7" cy="456.9" r="1.9" fill="#7599c6" stroke="#1e2c3c" stroke-width="1.1"/>
<circle cx="568.7" cy="453.8" r="1.9" fill="#7599c6" stroke="#1e2c3c" stroke-width="1.1"/>
<circle cx="568.7" cy="450.6" r="1.9" fill="#7599c6" stroke="#1e2c3c" stroke-width="1.1"/>
<circle cx="568.7" cy="443.2" r="1.9" fill="#7599c6" stroke="#1e2c3c" stroke-width="1.1"/>
<circle cx="568.7" cy="440.5" r="1.9" fill="#7599c6" stroke="#1e2c3c" stroke-width="1.1"/>
<circle cx="568.7" cy="437.2" r="1.9" fill="#7599c6" stroke="#1e2c3c" stroke-width="1.1"/>
<circle cx="568.7" cy="435.2" r="1.9" fill="#7599c6" stroke="#1e2c3c" stroke-width="1.1"/>
<circle cx="582.5" cy="469.8" r="1.9" fill="#4d73a5" stroke="#1e2c3c" stroke-width="1.1"/>
<circle cx="582.5" cy="463.7" r="1.9" fill="#e3ebf4" stroke="#1e2c3c" stroke-width="1.1"/>
<circle cx="582.5" cy="461.8" r="1.9" fill="#e3ebf4" stroke="#1e2c3c" stroke-width="1.1"/>
<circle cx="582.5" cy="460.2" r="1.9" fill="#e3ebf4" stroke="#1e2c3c" stroke-width="1.1"/>
<circle cx="582.5" cy="458.8" r="1.9" fill="#e3ebf4" stroke="#1e2c3c" stroke-width="1.1"/>
<circle cx="582.5" cy="456.9" r="1.9" fill="#e3ebf4" stroke="#1e2c3c" stroke-width="1.1"/>
<circle cx="582.5" cy="449.2" r="1.9" fill="#e3ebf4" stroke="#1e2c3c" stroke-width="1.1"/>
<circle cx="582.5" cy="447.6" r="1.9" fill="#e3ebf4" stroke="#1e2c3c" stroke-width="1.1"/>
<circle cx="582.5" cy="443.2" r="1.9" fill="#e3ebf4" stroke="#1e2c3c" stroke-width="1.1"/>
<circle cx="589.7" cy="469.8" r="1.9" fill="#4d73a5" stroke="#1e2c3c" stroke-width="1.1"/>
<circle cx="589.7" cy="460" r="1.9" fill="#7599c6" stroke="#1e2c3c" stroke-width="1.1"/>
<circle cx="589.7" cy="455.2" r="1.9" fill="#7599c6" stroke="#1e2c3c" stroke-width="1.1"/>
<circle cx="589.7" cy="453.2" r="1.9" fill="#7599c6" stroke="#1e2c3c" stroke-width="1.1"/>
<circle cx="589.7" cy="451.2" r="1.9" fill="#7599c6" stroke="#1e2c3c" stroke-width="1.1"/>
<circle cx="589.7" cy="449.2" r="1.9" fill="#7599c6" stroke="#1e2c3c" stroke-width="1.1"/>
<circle cx="589.7" cy="447.2" r="1.9" fill="#7599c6" stroke="#1e2c3c" stroke-width="1.1"/>
<circle cx="589.7" cy="444.5" r="1.9" fill="#7599c6" stroke="#1e2c3c" stroke-width="1.1"/>
<circle cx="589.7" cy="441.8" r="1.9" fill="#7599c6" stroke="#1e2c3c" stroke-width="1.1"/>
<circle cx="589.7" cy="439.2" r="1.9" fill="#7599c6" stroke="#1e2c3c" stroke-width="1.1"/>
<circle cx="589.7" cy="435.9" r="1.9" fill="#7599c6" stroke="#1e2c3c" stroke-width="1.1"/>
<circle cx="589.7" cy="433.9" r="1.9" fill="#7599c6" stroke="#1e2c3c" stroke-width="1.1"/>
<circle cx="589.7" cy="432.5" r="1.9" fill="#7599c6" stroke="#1e2c3c" stroke-width="1.1"/>
<circle cx="589.7" cy="426" r="1.9" fill="#7599c6" stroke="#1e2c3c" stroke-width="1.1"/>
<circle cx="589.7" cy="395.5" r="1.9" fill="#7599c6" stroke="#1e2c3c" stroke-width="1.1"/>
<circle cx="589.7" cy="384.6" r="1.9" fill="#7599c6" stroke="#1e2c3c" stroke-width="1.1"/>
<circle cx="603.5" cy="469.8" r="1.9" fill="#4d73a5" stroke="#1e2c3c" stroke-width="1.1"/>
<circle cx="603.5" cy="463.7" r="1.9" fill="#e3ebf4" stroke="#1e2c3c" stroke-width="1.1"/>
<circle cx="603.5" cy="461.8" r="1.9" fill="#e3ebf4" stroke="#1e2c3c" stroke-width="1.1"/>
<circle cx="603.5" cy="460.2" r="1.9" fill="#e3ebf4" stroke="#1e2c3c" stroke-width="1.1"/>
<circle cx="603.5" cy="458.8" r="1.9" fill="#e3ebf4" stroke="#1e2c3c" stroke-width="1.1"/>
<circle cx="603.5" cy="456.9" r="1.9" fill="#e3ebf4" stroke="#1e2c3c" stroke-width="1.1"/>
<circle cx="603.5" cy="454.4" r="1.9" fill="#e3ebf4" stroke="#1e2c3c" stroke-width="1.1"/>
<circle cx="603.5" cy="451.3" r="1.9" fill="#e3ebf4" stroke="#1e2c3c" stroke-width="1.1"/>
<circle cx="603.5" cy="447.2" r="1.9" fill="#e3ebf4" stroke="#1e2c3c" stroke-width="1.1"/>
<circle cx="603.5" cy="438.1" r="1.9" fill="#e3ebf4" stroke="#1e2c3c" stroke-width="1.1"/>
<circle cx="610.7" cy="469.8" r="1.9" fill="#4d73a5" stroke="#1e2c3c" stroke-width="1.1"/>
<circle cx="610.7" cy="453.8" r="1.9" fill="#7599c6" stroke="#1e2c3c" stroke-width="1.1"/>
<circle cx="610.7" cy="451.2" r="1.9" fill="#7599c6" stroke="#1e2c3c" stroke-width="1.1"/>
<circle cx="610.7" cy="449.2" r="1.9" fill="#7599c6" stroke="#1e2c3c" stroke-width="1.1"/>
<circle cx="610.7" cy="445.2" r="1.9" fill="#7599c6" stroke="#1e2c3c" stroke-width="1.1"/>
<circle cx="610.7" cy="443.2" r="1.9" fill="#7599c6" stroke="#1e2c3c" stroke-width="1.1"/>
<circle cx="610.7" cy="441.4" r="1.9" fill="#7599c6" stroke="#1e2c3c" stroke-width="1.1"/>
<circle cx="610.7" cy="439.6" r="1.9" fill="#7599c6" stroke="#1e2c3c" stroke-width="1.1"/>
<circle cx="610.7" cy="437.9" r="1.9" fill="#7599c6" stroke="#1e2c3c" stroke-width="1.1"/>
<circle cx="610.7" cy="435.9" r="1.9" fill="#7599c6" stroke="#1e2c3c" stroke-width="1.1"/>
<circle cx="610.7" cy="432.5" r="1.9" fill="#7599c6" stroke="#1e2c3c" stroke-width="1.1"/>
<circle cx="610.7" cy="420.6" r="1.9" fill="#7599c6" stroke="#1e2c3c" stroke-width="1.1"/>
<circle cx="610.7" cy="419.2" r="1.9" fill="#7599c6" stroke="#1e2c3c" stroke-width="1.1"/>
<circle cx="610.7" cy="395.9" r="1.9" fill="#7599c6" stroke="#1e2c3c" stroke-width="1.1"/>
<circle cx="610.7" cy="393.9" r="1.9" fill="#7599c6" stroke="#1e2c3c" stroke-width="1.1"/>
<circle cx="610.7" cy="391.5" r="1.9" fill="#7599c6" stroke="#1e2c3c" stroke-width="1.1"/>
<circle cx="610.7" cy="389.9" r="1.9" fill="#7599c6" stroke="#1e2c3c" stroke-width="1.1"/>
<circle cx="610.7" cy="356.7" r="1.9" fill="#7599c6" stroke="#1e2c3c" stroke-width="1.1"/>
<circle cx="624.5" cy="469.8" r="1.9" fill="#4d73a5" stroke="#1e2c3c" stroke-width="1.1"/>
<circle cx="624.5" cy="463.7" r="1.9" fill="#e3ebf4" stroke="#1e2c3c" stroke-width="1.1"/>
<circle cx="624.5" cy="460.2" r="1.9" fill="#e3ebf4" stroke="#1e2c3c" stroke-width="1.1"/>
<circle cx="624.5" cy="458.8" r="1.9" fill="#e3ebf4" stroke="#1e2c3c" stroke-width="1.1"/>
<circle cx="624.5" cy="456.9" r="1.9" fill="#e3ebf4" stroke="#1e2c3c" stroke-width="1.1"/>
<circle cx="624.5" cy="452.5" r="1.9" fill="#e3ebf4" stroke="#1e2c3c" stroke-width="1.1"/>
<circle cx="624.5" cy="450.6" r="1.9" fill="#e3ebf4" stroke="#1e2c3c" stroke-width="1.1"/>
<circle cx="624.5" cy="449.2" r="1.9" fill="#e3ebf4" stroke="#1e2c3c" stroke-width="1.1"/>
<circle cx="624.5" cy="447.6" r="1.9" fill="#e3ebf4" stroke="#1e2c3c" stroke-width="1.1"/>
<circle cx="624.5" cy="446.1" r="1.9" fill="#e3ebf4" stroke="#1e2c3c" stroke-width="1.1"/>
<circle cx="624.5" cy="439.9" r="1.9" fill="#e3ebf4" stroke="#1e2c3c" stroke-width="1.1"/>
<circle cx="624.5" cy="431.9" r="1.9" fill="#e3ebf4" stroke="#1e2c3c" stroke-width="1.1"/>
<circle cx="624.5" cy="430.4" r="1.9" fill="#e3ebf4" stroke="#1e2c3c" stroke-width="1.1"/>
<circle cx="631.8" cy="469.8" r="1.9" fill="#4d73a5" stroke="#1e2c3c" stroke-width="1.1"/>
<circle cx="631.8" cy="452.5" r="1.9" fill="#7599c6" stroke="#1e2c3c" stroke-width="1.1"/>
<circle cx="631.8" cy="449.2" r="1.9" fill="#7599c6" stroke="#1e2c3c" stroke-width="1.1"/>
<circle cx="631.8" cy="446.1" r="1.9" fill="#7599c6" stroke="#1e2c3c" stroke-width="1.1"/>
<circle cx="631.8" cy="443.2" r="1.9" fill="#7599c6" stroke="#1e2c3c" stroke-width="1.1"/>
<circle cx="631.8" cy="434.5" r="1.9" fill="#7599c6" stroke="#1e2c3c" stroke-width="1.1"/>
<circle cx="631.8" cy="431.6" r="1.9" fill="#7599c6" stroke="#1e2c3c" stroke-width="1.1"/>
<circle cx="631.8" cy="429.2" r="1.9" fill="#7599c6" stroke="#1e2c3c" stroke-width="1.1"/>
<circle cx="631.8" cy="420.6" r="1.9" fill="#7599c6" stroke="#1e2c3c" stroke-width="1.1"/>
<circle cx="631.8" cy="416.6" r="1.9" fill="#7599c6" stroke="#1e2c3c" stroke-width="1.1"/>
<circle cx="631.8" cy="412.6" r="1.9" fill="#7599c6" stroke="#1e2c3c" stroke-width="1.1"/>
<circle cx="631.8" cy="409.1" r="1.9" fill="#7599c6" stroke="#1e2c3c" stroke-width="1.1"/>
<circle cx="631.8" cy="407.2" r="1.9" fill="#7599c6" stroke="#1e2c3c" stroke-width="1.1"/>
<circle cx="631.8" cy="405.1" r="1.9" fill="#7599c6" stroke="#1e2c3c" stroke-width="1.1"/>
<circle cx="631.8" cy="397.9" r="1.9" fill="#7599c6" stroke="#1e2c3c" stroke-width="1.1"/>
<circle cx="631.8" cy="394.6" r="1.9" fill="#7599c6" stroke="#1e2c3c" stroke-width="1.1"/>
<circle cx="631.8" cy="391.3" r="1.9" fill="#7599c6" stroke="#1e2c3c" stroke-width="1.1"/>
<circle cx="631.8" cy="371.3" r="1.9" fill="#7599c6" stroke="#1e2c3c" stroke-width="1.1"/>
<circle cx="631.8" cy="369.3" r="1.9" fill="#7599c6" stroke="#1e2c3c" stroke-width="1.1"/>
<circle cx="631.8" cy="363.3" r="1.9" fill="#7599c6" stroke="#1e2c3c" stroke-width="1.1"/>
<circle cx="645.6" cy="469.8" r="1.9" fill="#4d73a5" stroke="#1e2c3c" stroke-width="1.1"/>
<circle cx="645.6" cy="458.8" r="1.9" fill="#e3ebf4" stroke="#1e2c3c" stroke-width="1.1"/>
<circle cx="645.6" cy="456.5" r="1.9" fill="#e3ebf4" stroke="#1e2c3c" stroke-width="1.1"/>
<circle cx="645.6" cy="454.4" r="1.9" fill="#e3ebf4" stroke="#1e2c3c" stroke-width="1.1"/>
<circle cx="645.6" cy="452.5" r="1.9" fill="#e3ebf4" stroke="#1e2c3c" stroke-width="1.1"/>
<circle cx="645.6" cy="450.6" r="1.9" fill="#e3ebf4" stroke="#1e2c3c" stroke-width="1.1"/>
<circle cx="645.6" cy="449.2" r="1.9" fill="#e3ebf4" stroke="#1e2c3c" stroke-width="1.1"/>
<circle cx="645.6" cy="447.2" r="1.9" fill="#e3ebf4" stroke="#1e2c3c" stroke-width="1.1"/>
<circle cx="645.6" cy="436.8" r="1.9" fill="#e3ebf4" stroke="#1e2c3c" stroke-width="1.1"/>
<circle cx="645.6" cy="424.8" r="1.9" fill="#e3ebf4" stroke="#1e2c3c" stroke-width="1.1"/>
<circle cx="645.6" cy="416.8" r="1.9" fill="#e3ebf4" stroke="#1e2c3c" stroke-width="1.1"/>
<circle cx="652.8" cy="469.8" r="1.9" fill="#4d73a5" stroke="#1e2c3c" stroke-width="1.1"/>
<circle cx="652.8" cy="453.8" r="1.9" fill="#7599c6" stroke="#1e2c3c" stroke-width="1.1"/>
<circle cx="652.8" cy="451.2" r="1.9" fill="#7599c6" stroke="#1e2c3c" stroke-width="1.1"/>
<circle cx="652.8" cy="443.2" r="1.9" fill="#7599c6" stroke="#1e2c3c" stroke-width="1.1"/>
<circle cx="652.8" cy="436.8" r="1.9" fill="#7599c6" stroke="#1e2c3c" stroke-width="1.1"/>
<circle cx="652.8" cy="433.9" r="1.9" fill="#7599c6" stroke="#1e2c3c" stroke-width="1.1"/>
<circle cx="652.8" cy="430.7" r="1.9" fill="#7599c6" stroke="#1e2c3c" stroke-width="1.1"/>
<circle cx="652.8" cy="427.6" r="1.9" fill="#7599c6" stroke="#1e2c3c" stroke-width="1.1"/>
<circle cx="652.8" cy="424.5" r="1.9" fill="#7599c6" stroke="#1e2c3c" stroke-width="1.1"/>
<circle cx="652.8" cy="422.4" r="1.9" fill="#7599c6" stroke="#1e2c3c" stroke-width="1.1"/>
<circle cx="652.8" cy="418.3" r="1.9" fill="#7599c6" stroke="#1e2c3c" stroke-width="1.1"/>
<circle cx="652.8" cy="415.2" r="1.9" fill="#7599c6" stroke="#1e2c3c" stroke-width="1.1"/>
<circle cx="652.8" cy="412.2" r="1.9" fill="#7599c6" stroke="#1e2c3c" stroke-width="1.1"/>
<circle cx="652.8" cy="408.2" r="1.9" fill="#7599c6" stroke="#1e2c3c" stroke-width="1.1"/>
<circle cx="652.8" cy="405.9" r="1.9" fill="#7599c6" stroke="#1e2c3c" stroke-width="1.1"/>
<circle cx="652.8" cy="403.9" r="1.9" fill="#7599c6" stroke="#1e2c3c" stroke-width="1.1"/>
<circle cx="652.8" cy="398.3" r="1.9" fill="#7599c6" stroke="#1e2c3c" stroke-width="1.1"/>
<circle cx="652.8" cy="392.6" r="1.9" fill="#7599c6" stroke="#1e2c3c" stroke-width="1.1"/>
<circle cx="652.8" cy="388.6" r="1.9" fill="#7599c6" stroke="#1e2c3c" stroke-width="1.1"/>
<circle cx="652.8" cy="366" r="1.9" fill="#7599c6" stroke="#1e2c3c" stroke-width="1.1"/>
<circle cx="652.8" cy="348.7" r="1.9" fill="#7599c6" stroke="#1e2c3c" stroke-width="1.1"/>
<circle cx="666.6" cy="469.8" r="1.9" fill="#4d73a5" stroke="#1e2c3c" stroke-width="1.1"/>
<circle cx="666.6" cy="458.8" r="1.9" fill="#e3ebf4" stroke="#1e2c3c" stroke-width="1.1"/>
<circle cx="666.6" cy="456.5" r="1.9" fill="#e3ebf4" stroke="#1e2c3c" stroke-width="1.1"/>
<circle cx="666.6" cy="453.8" r="1.9" fill="#e3ebf4" stroke="#1e2c3c" stroke-width="1.1"/>
<circle cx="666.6" cy="451.2" r="1.9" fill="#e3ebf4" stroke="#1e2c3c" stroke-width="1.1"/>
<circle cx="666.6" cy="449.2" r="1.9" fill="#e3ebf4" stroke="#1e2c3c" stroke-width="1.1"/>
<circle cx="666.6" cy="446.1" r="1.9" fill="#e3ebf4" stroke="#1e2c3c" stroke-width="1.1"/>
<circle cx="666.6" cy="443.2" r="1.9" fill="#e3ebf4" stroke="#1e2c3c" stroke-width="1.1"/>
<circle cx="666.6" cy="429.2" r="1.9" fill="#e3ebf4" stroke="#1e2c3c" stroke-width="1.1"/>
<circle cx="666.6" cy="419.9" r="1.9" fill="#e3ebf4" stroke="#1e2c3c" stroke-width="1.1"/>
<circle cx="666.6" cy="417.9" r="1.9" fill="#e3ebf4" stroke="#1e2c3c" stroke-width="1.1"/>
<circle cx="666.6" cy="415.2" r="1.9" fill="#e3ebf4" stroke="#1e2c3c" stroke-width="1.1"/>
<circle cx="673.8" cy="469.8" r="1.9" fill="#4d73a5" stroke="#1e2c3c" stroke-width="1.1"/>
<circle cx="673.8" cy="449.8" r="1.9" fill="#7599c6" stroke="#1e2c3c" stroke-width="1.1"/>
<circle cx="673.8" cy="448.5" r="1.9" fill="#7599c6" stroke="#1e2c3c" stroke-width="1.1"/>
<circle cx="673.8" cy="441.4" r="1.9" fill="#7599c6" stroke="#1e2c3c" stroke-width="1.1"/>
<circle cx="673.8" cy="439.2" r="1.9" fill="#7599c6" stroke="#1e2c3c" stroke-width="1.1"/>
<circle cx="673.8" cy="436.8" r="1.9" fill="#7599c6" stroke="#1e2c3c" stroke-width="1.1"/>
<circle cx="673.8" cy="420.6" r="1.9" fill="#7599c6" stroke="#1e2c3c" stroke-width="1.1"/>
<circle cx="673.8" cy="415.2" r="1.9" fill="#7599c6" stroke="#1e2c3c" stroke-width="1.1"/>
<circle cx="673.8" cy="413.1" r="1.9" fill="#7599c6" stroke="#1e2c3c" stroke-width="1.1"/>
<circle cx="673.8" cy="410.7" r="1.9" fill="#7599c6" stroke="#1e2c3c" stroke-width="1.1"/>
<circle cx="673.8" cy="408.2" r="1.9" fill="#7599c6" stroke="#1e2c3c" stroke-width="1.1"/>
<circle cx="673.8" cy="405.9" r="1.9" fill="#7599c6" stroke="#1e2c3c" stroke-width="1.1"/>
<circle cx="673.8" cy="403.9" r="1.9" fill="#7599c6" stroke="#1e2c3c" stroke-width="1.1"/>
<circle cx="673.8" cy="401.9" r="1.9" fill="#7599c6" stroke="#1e2c3c" stroke-width="1.1"/>
<circle cx="673.8" cy="400.2" r="1.9" fill="#7599c6" stroke="#1e2c3c" stroke-width="1.1"/>
<circle cx="673.8" cy="398.3" r="1.9" fill="#7599c6" stroke="#1e2c3c" stroke-width="1.1"/>
<circle cx="673.8" cy="392.6" r="1.9" fill="#7599c6" stroke="#1e2c3c" stroke-width="1.1"/>
<circle cx="673.8" cy="389.9" r="1.9" fill="#7599c6" stroke="#1e2c3c" stroke-width="1.1"/>
<circle cx="673.8" cy="385.9" r="1.9" fill="#7599c6" stroke="#1e2c3c" stroke-width="1.1"/>
<circle cx="673.8" cy="383.3" r="1.9" fill="#7599c6" stroke="#1e2c3c" stroke-width="1.1"/>
<circle cx="673.8" cy="375.3" r="1.9" fill="#7599c6" stroke="#1e2c3c" stroke-width="1.1"/>
<circle cx="673.8" cy="369" r="1.9" fill="#7599c6" stroke="#1e2c3c" stroke-width="1.1"/>
<circle cx="673.8" cy="363.3" r="1.9" fill="#7599c6" stroke="#1e2c3c" stroke-width="1.1"/>
<circle cx="673.8" cy="359.3" r="1.9" fill="#7599c6" stroke="#1e2c3c" stroke-width="1.1"/>
<path d="M561.5 464.5 V468.5 M560.2 464.5 h2.6 M560.2 468.5 h2.6" stroke="#222" stroke-width="0.7" fill="none"/>
<path d="M559 466.5h5" stroke="#222" stroke-width="0.7"/>
<path d="M582.5 461.1 V466.5 M581.2 461.1 h2.6 M581.2 466.5 h2.6" stroke="#222" stroke-width="0.7" fill="none"/>
<path d="M580 463.8h5" stroke="#222" stroke-width="0.7"/>
<path d="M603.5 459.2 V464.5 M602.2 459.2 h2.6 M602.2 464.5 h2.6" stroke="#222" stroke-width="0.7" fill="none"/>
<path d="M601 461.8h5" stroke="#222" stroke-width="0.7"/>
<path d="M624.5 454.5 V461.1 M623.2 454.5 h2.6 M623.2 461.1 h2.6" stroke="#222" stroke-width="0.7" fill="none"/>
<path d="M622 457.8h5" stroke="#222" stroke-width="0.7"/>
<path d="M645.6 453.2 V461.1 M644.3 453.2 h2.6 M644.3 461.1 h2.6" stroke="#222" stroke-width="0.7" fill="none"/>
<path d="M643.1 457.2h5" stroke="#222" stroke-width="0.7"/>
<path d="M666.6 451.2 V459.2 M665.3 451.2 h2.6 M665.3 459.2 h2.6" stroke="#222" stroke-width="0.7" fill="none"/>
<path d="M664.1 455.2h5" stroke="#222" stroke-width="0.7"/>
<path d="M568.7 459.2 V465.8 M567.4 459.2 h2.6 M567.4 465.8 h2.6" stroke="#222" stroke-width="0.7" fill="none"/>
<path d="M566.2 462.5h5" stroke="#222" stroke-width="0.7"/>
<path d="M589.7 440.5 V453.8 M588.4 440.5 h2.6 M588.4 453.8 h2.6" stroke="#222" stroke-width="0.7" fill="none"/>
<path d="M587.2 447.2h5" stroke="#222" stroke-width="0.7"/>
<path d="M610.7 427.2 V440.5 M609.4 427.2 h2.6 M609.4 440.5 h2.6" stroke="#222" stroke-width="0.7" fill="none"/>
<path d="M608.2 433.9h5" stroke="#222" stroke-width="0.7"/>
<path d="M631.8 413.9 V429.9 M630.5 413.9 h2.6 M630.5 429.9 h2.6" stroke="#222" stroke-width="0.7" fill="none"/>
<path d="M629.2 421.9h5" stroke="#222" stroke-width="0.7"/>
<path d="M652.8 417.9 V431.2 M651.5 417.9 h2.6 M651.5 431.2 h2.6" stroke="#222" stroke-width="0.7" fill="none"/>
<path d="M650.3 424.5h5" stroke="#222" stroke-width="0.7"/>
<path d="M673.8 401.9 V415.2 M672.5 401.9 h2.6 M672.5 415.2 h2.6" stroke="#222" stroke-width="0.7" fill="none"/>
<path d="M671.3 408.6h5" stroke="#222" stroke-width="0.7"/>
<g font-size="13" text-anchor="middle" stroke="#111" stroke-width="0.35">
<text x="589.8" y="383">**</text>
<text x="611.2" y="354.5">***</text>
<text x="632.3" y="363">***</text>
<text x="653.1" y="347.7">***</text>
<text x="674.2" y="359.7">***</text>
</g>
<circle cx="523.4" cy="347.3" r="1.9" fill="#e3ebf4" stroke="#1e2c3c" stroke-width="1.1"/>
<circle cx="523.4" cy="363" r="1.9" fill="#7599c6" stroke="#1e2c3c" stroke-width="1.1"/>
<text x="529.5" y="351.6" font-size="12">Control</text>
<text x="529.5" y="367.3" font-size="12">Conditioned</text>
</svg></body></html>
